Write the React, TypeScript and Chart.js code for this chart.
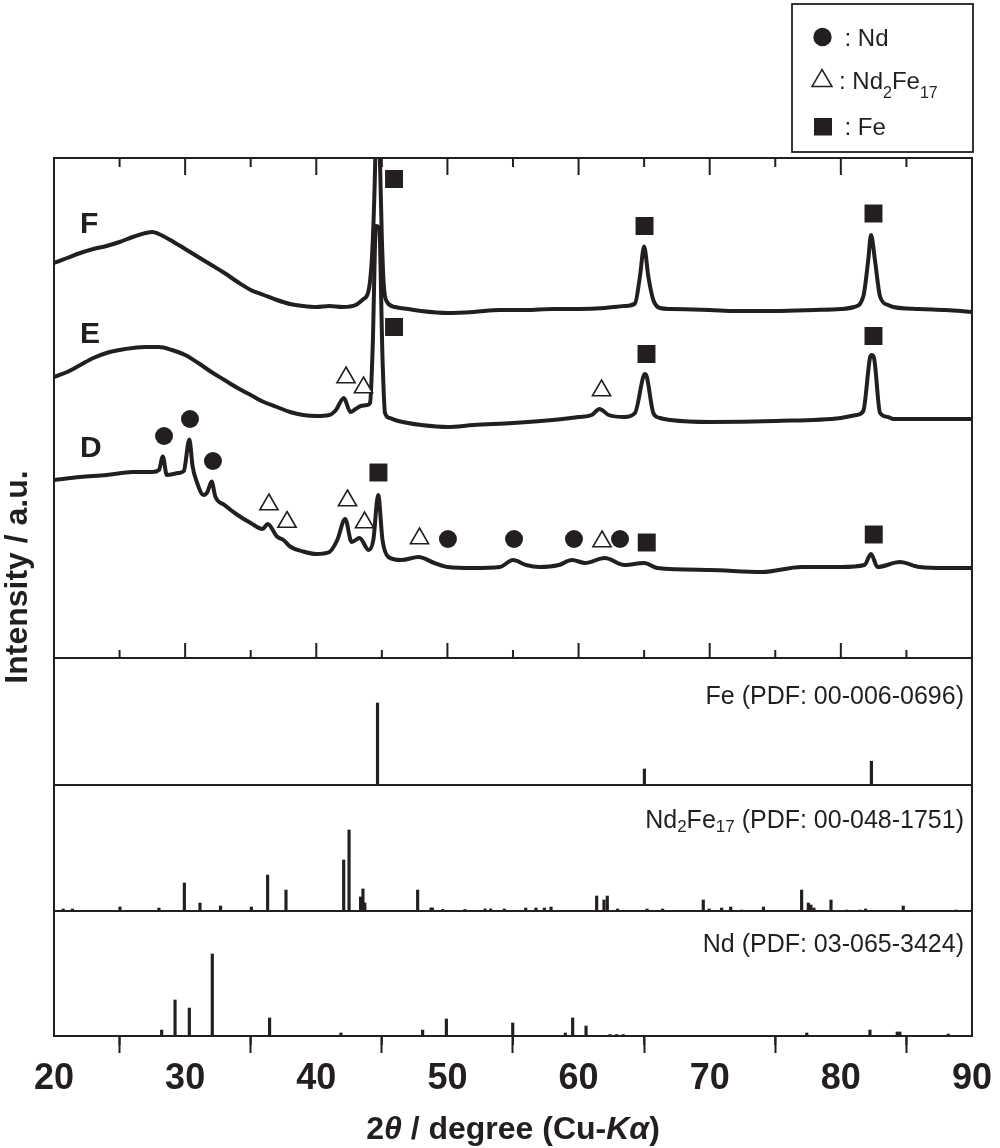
import { useEffect, useRef } from 'react';
import { Chart, registerables } from 'chart.js';

Chart.register(...registerables);

const INK = '#231f20';
const SANS = '"Liberation Sans", Arial, Helvetica, sans-serif';

// Measured patterns: [2θ (deg), intensity (a.u., vertically offset per sample)]
const patternF: [number, number][] = [
  [20, 79.0], [21, 80.0], [22, 81.0], [23, 81.8], [24, 82.4], [25, 83.2], [26, 84.2], [27, 85.0],
  [27.5, 85.2], [28, 84.8], [29, 83.4], [30, 81.8], [31, 80.2], [32, 78.6], [33, 77.0], [34, 75.2],
  [35, 73.6], [36, 72.6], [37, 71.6], [38, 70.8], [39, 70.4], [40, 70.2], [41, 70.4], [42, 70.2],
  [43, 70.6], [43.6, 71.8], [44.0, 73.6], [44.3, 83], [44.5, 100], [44.67, 130], [44.85, 100],
  [45.0, 84], [45.15, 74.5], [45.4, 71.2], [46, 70.2], [47, 69.8], [48, 69.4], [50, 69.0], [52, 69.2],
  [54, 69.6], [56, 69.6], [58, 69.8], [60, 69.8], [62, 70.0], [63.5, 70.4], [64.3, 70.9], [64.68, 76.3],
  [65.0, 82.3], [65.32, 76.3], [65.7, 71.6], [66.2, 70.0], [67, 69.8], [70, 69.6], [72, 69.4],
  [75, 69.4], [78, 69.6], [80, 69.8], [81, 70.2], [81.71, 72.3], [82.09, 79.6], [82.3, 84.6],
  [82.6, 79.6], [82.99, 72.3], [83.6, 70.6], [84, 70.2], [86, 69.8], [88, 69.6], [90, 69.2],
];

const patternE: [number, number][] = [
  [20, 56.2], [21, 57.2], [22, 58.6], [23, 60.0], [24, 61.0], [25, 61.6], [26, 62.0], [27, 62.2],
  [28, 62.2], [29, 61.6], [30, 60.6], [31, 59.0], [32, 57.2], [33, 55.6], [34, 54.0], [35, 52.6],
  [36, 51.2], [37, 50.2], [38, 49.2], [39, 48.6], [40, 48.4], [41, 48.6], [41.5, 49.6], [42.1, 52.0],
  [42.6, 49.2], [43.0, 49.8], [43.4, 50.4], [43.9, 50.6], [44.1, 51.0], [44.3, 62], [44.55, 86.4],
  [44.8, 86], [45.05, 60], [45.24, 49], [45.6, 48], [46, 47.6], [47, 47.0], [48, 46.6], [50, 46.2],
  [52, 46.6], [55, 47.0], [58, 47.6], [60, 48.2], [61, 48.6], [61.6, 49.8], [62.3, 48.6], [63.5, 48.2],
  [64.3, 49.0], [64.94, 56.3], [65.05, 56.8], [65.2, 56.3], [65.7, 49.0], [66.2, 48.0], [67, 47.6],
  [70, 47.2], [75, 47.4], [80, 48.0], [81.2, 48.6], [81.71, 49.4], [82.22, 60], [82.35, 60.6],
  [82.53, 60], [82.99, 49], [83.6, 48.2], [84, 47.8], [86, 47.8], [90, 47.8],
];

const patternD: [number, number][] = [
  [20, 35.6], [22, 36.2], [24, 36.6], [26, 37.2], [27.5, 37.2], [28, 37.6], [28.3, 40.3], [28.6, 36.6],
  [29.5, 37.0], [29.9, 37.4], [30.32, 43.7], [30.57, 38.3], [30.88, 35.3], [31.4, 32.6], [31.7, 33.2],
  [32.02, 35.3], [32.3, 32.3], [33, 30.6], [34, 28.6], [35, 27.0], [35.9, 25.8], [36.3, 26.8],
  [37, 24.3], [37.5, 23.6], [38, 22.3], [39, 21.3], [40, 20.8], [41, 21.2], [41.6, 23.6], [42.2, 27.8],
  [42.7, 23.2], [43.3, 24.0], [44.0, 21.6], [44.35, 23.6], [44.72, 32.6], [45.05, 23.6], [45.5, 20.2],
  [46.5, 19.6], [47.8, 20.2], [49, 19.0], [50, 18.2], [52, 18.0], [54, 18.2], [55, 19.6], [56, 18.6],
  [57, 18.2], [58.5, 18.6], [59.5, 19.6], [60.5, 19.0], [62, 20.0], [63.5, 18.6], [65, 19.0], [66, 18.0],
  [70, 17.6], [74, 17.2], [77, 18.2], [80, 18.2], [81.8, 18.6], [82.3, 20.8], [82.8, 18.2], [84.5, 19.2],
  [86, 18.2], [88, 18.0], [90, 18.0],
];

// Phase assignment marks: [2θ, intensity on the pattern axis]
const ndMarks: [number, number][] = [
  [28.39, 44.4], [30.37, 47.8], [32.12, 39.4], [50.04, 23.8], [55.08, 23.8], [59.65, 23.8], [63.16, 23.8],
];
const nd2fe17Marks: [number, number][] = [
  [42.27, 56.1], [43.6, 54.1], [61.75, 53.5],
  [36.39, 30.7], [37.77, 27.2], [42.38, 31.5], [43.68, 27.1], [47.87, 23.9], [61.79, 23.3],
];
const feMarks: [number, number][] = [
  [45.93, 95.8], [65.03, 86.4], [82.49, 88.9],
  [45.93, 66.2], [65.18, 60.8], [82.49, 64.4],
  [44.74, 37.1], [65.2, 23.1], [82.51, 24.7],
];

// Reference stick patterns: [2θ, relative intensity (%)]
const feRef: [number, number][] = [[44.67, 100], [65.02, 19.5], [82.33, 29]];

const nd2fe17Ref: [number, number][] = [
  [20.7, 2.5], [21.4, 2.5], [25.03, 5], [28.0, 3.7], [29.94, 34.6], [31.13, 9.9], [32.7, 6.2],
  [35.05, 4.9], [36.29, 44.4], [37.69, 25.9], [42.09, 63], [42.5, 100], [43.38, 17.3], [43.56, 27.2],
  [43.7, 9.9], [47.73, 25.9], [48.75, 3.7], [48.85, 3.7], [49.64, 1.9], [51.34, 1.9], [52.87, 2.5],
  [53.3, 2.5], [54.34, 2.5], [55.97, 3.7], [56.75, 3.7], [57.39, 3.7], [57.9, 4.9], [61.38, 18.5],
  [61.94, 13.6], [62.19, 18.5], [62.98, 2.5], [65.22, 2.5], [66.41, 2.5], [69.51, 13.6], [69.95, 2.5],
  [70.91, 3.7], [71.6, 4.9], [72.44, 1.2], [74.1, 4.9], [77.01, 25.9], [77.52, 9.9], [77.72, 7.4],
  [77.95, 3.7], [79.25, 13.6], [80.44, 1.2], [81.46, 1.2], [81.89, 2.5], [84.76, 6.2], [88.78, 1.2],
];

const ndRef: [number, number][] = [
  [28.21, 7.3], [29.23, 43.9], [30.32, 34.1], [32.07, 100], [36.44, 22], [41.88, 3.7], [48.11, 7.3],
  [49.92, 20.7], [54.98, 15.9], [58.99, 3.7], [59.55, 22], [60.57, 12.2], [62.4, 1.8], [62.9, 1.8],
  [63.4, 1.8], [77.4, 3.7], [82.22, 7.3], [84.3, 4.9], [84.5, 4.9], [88.19, 2.4],
];

const xMajorTicks = [20, 30, 40, 50, 60, 70, 80, 90];
const xMinorTicks = [25, 35, 45, 55, 65, 75, 85];
const sampleNames = ['F', 'E', 'D'];

// ---- layout ----
const CANVAS_W = 1000;
const CANVAS_H = 1148;
const PLOT = { left: 54, right: 972, top: 158, bottom: 1036 };
// baseline pixel and pixels per intensity unit of each stacked panel
const PANEL: Record<string, { base: number; ppu: number }> = {
  yMain: { base: 658, ppu: 5 },
  yFe: { base: 785, ppu: 0.82 },
  yNd2Fe17: { base: 911, ppu: 0.81 },
  yNd: { base: 1036, ppu: 0.82 },
};

function panelScale(key: string) {
  const p = PANEL[key];
  return {
    type: 'linear' as const,
    display: false,
    bounds: 'data' as const,
    min: (p.base - PLOT.bottom) / p.ppu,
    max: (p.base - PLOT.top) / p.ppu,
  };
}

type Run = { text: string; sub?: boolean; italic?: boolean };

function drawRuns(
  ctx: CanvasRenderingContext2D,
  runs: Run[],
  x: number,
  y: number,
  size: number,
  weight: string,
  align: 'left' | 'right' | 'center',
  subSize: number,
  subDrop: number,
) {
  const fontOf = (r: Run) => `${r.italic ? 'italic ' : ''}${weight} ${r.sub ? subSize : size}px ${SANS}`;
  const widths = runs.map((r) => {
    ctx.font = fontOf(r);
    return ctx.measureText(r.text).width;
  });
  const total = widths.reduce((s, w) => s + w, 0);
  let cx = align === 'right' ? x - total : align === 'center' ? x - total / 2 : x;
  ctx.textAlign = 'left';
  ctx.textBaseline = 'alphabetic';
  runs.forEach((r, i) => {
    ctx.font = fontOf(r);
    ctx.fillText(r.text, cx, r.sub ? y + subDrop : y);
    cx += widths[i];
  });
}

const decorations = {
  id: 'xrdDecorations',
  afterDraw(chart: Chart) {
    const { ctx, chartArea: a, scales } = chart;
    const x = scales.x;
    const mainBottom = scales.yMain.getPixelForValue(0);
    const feBottom = scales.yFe.getPixelForValue(0);
    const ndfeBottom = scales.yNd2Fe17.getPixelForValue(0);

    ctx.save();
    ctx.strokeStyle = INK;
    ctx.fillStyle = INK;
    ctx.lineCap = 'butt';

    // panel frames
    ctx.lineWidth = 2;
    ctx.strokeRect(a.left, a.top, a.right - a.left, a.bottom - a.top);
    [mainBottom, feBottom, ndfeBottom].forEach((py) => {
      ctx.beginPath();
      ctx.moveTo(a.left, py);
      ctx.lineTo(a.right, py);
      ctx.stroke();
    });

    // inward ticks of the pattern panel, minor ticks of the bottom axis
    const all = [...xMajorTicks, ...xMinorTicks];
    all.forEach((v) => {
      const px = x.getPixelForValue(v);
      const major = xMajorTicks.includes(v);
      ctx.beginPath();
      if (v > 20 && v < 90) {
        ctx.moveTo(px, a.top);
        ctx.lineTo(px, a.top + (major ? 17 : 9));
        ctx.moveTo(px, mainBottom);
        ctx.lineTo(px, mainBottom - (major ? 15 : 8));
      }
      if (!major) {
        ctx.moveTo(px, a.bottom);
        ctx.lineTo(px, a.bottom + 9);
      }
      ctx.stroke();
    });

    // sample labels
    ctx.font = `bold 30px ${SANS}`;
    ctx.textAlign = 'left';
    ctx.textBaseline = 'alphabetic';
    const labelBase = [233, 342.5, 457];
    sampleNames.forEach((n, i) => ctx.fillText(n, a.left + 26, labelBase[i]));

    // reference card labels
    const rx = a.right - 8;
    drawRuns(ctx, [{ text: 'Fe (PDF: 00-006-0696)' }], rx, feBottom - 81, 25, 'normal', 'right', 17, 3.5);
    drawRuns(
      ctx,
      [{ text: 'Nd' }, { text: '2', sub: true }, { text: 'Fe' }, { text: '17', sub: true }, { text: ' (PDF: 00-048-1751)' }],
      rx, ndfeBottom - 83, 25, 'normal', 'right', 17, 3.5,
    );
    drawRuns(ctx, [{ text: 'Nd (PDF: 03-065-3424)' }], rx, a.bottom - 84, 25, 'normal', 'right', 17, 3.5);

    // axis titles
    drawRuns(
      ctx,
      [{ text: '2' }, { text: 'θ', italic: true }, { text: ' / degree (Cu-' }, { text: 'Kα', italic: true }, { text: ')' }],
      (a.left + a.right) / 2, 1139, 32, 'bold', 'center', 20, 0,
    );
    ctx.save();
    ctx.translate(27, 577);
    ctx.rotate(-Math.PI / 2);
    ctx.font = `bold 32px ${SANS}`;
    ctx.textAlign = 'center';
    ctx.textBaseline = 'alphabetic';
    ctx.fillText('Intensity / a.u.', 0, 0);
    ctx.restore();

    // legend box
    ctx.lineWidth = 1.8;
    ctx.strokeRect(792, 4, 181, 148);
    ctx.beginPath();
    ctx.arc(822.5, 37, 9.2, 0, Math.PI * 2);
    ctx.fill();
    ctx.lineWidth = 1.5;
    ctx.beginPath();
    ctx.moveTo(822, 69.5);
    ctx.lineTo(832, 86.5);
    ctx.lineTo(812, 86.5);
    ctx.closePath();
    ctx.stroke();
    ctx.fillRect(814, 118, 18, 17.5);
    drawRuns(ctx, [{ text: ': Nd' }], 844.5, 45.5, 24, 'normal', 'left', 16, 9);
    drawRuns(
      ctx,
      [{ text: ': Nd' }, { text: '2', sub: true }, { text: 'Fe' }, { text: '17', sub: true }],
      839, 88.5, 24, 'normal', 'left', 16, 9,
    );
    drawRuns(ctx, [{ text: ': Fe' }], 844.5, 135, 24, 'normal', 'left', 16, 9);

    ctx.restore();
  },
};

const toXY = (pts: [number, number][]) => pts.map(([x, y]) => ({ x, y }));

function traceDataset(pts: [number, number][]) {
  return {
    type: 'line' as const,
    data: toXY(pts),
    yAxisID: 'yMain',
    borderColor: INK,
    borderWidth: 4,
    pointRadius: 0,
    fill: false,
    cubicInterpolationMode: 'monotone' as const,
    borderJoinStyle: 'round' as const,
  };
}

function stickDataset(pts: [number, number][], axis: string) {
  return {
    type: 'bar' as const,
    data: toXY(pts),
    yAxisID: axis,
    backgroundColor: INK,
    borderWidth: 0,
    barThickness: 2.5,
    grouped: false,
  };
}

export default function App() {
  const ref = useRef<HTMLCanvasElement>(null);

  useEffect(() => {
    const canvas = ref.current;
    if (!canvas) return;
    Chart.defaults.font.family = SANS;
    const chart = new Chart(canvas, {
      type: 'line',
      data: {
        datasets: [
          {
            type: 'scatter',
            data: toXY(ndMarks),
            yAxisID: 'yMain',
            pointStyle: 'circle',
            pointRadius: 9,
            backgroundColor: INK,
            borderColor: INK,
            borderWidth: 0,
          },
          {
            type: 'scatter',
            data: toXY(nd2fe17Marks),
            yAxisID: 'yMain',
            pointStyle: 'triangle',
            pointRadius: 10.5,
            backgroundColor: '#ffffff',
            borderColor: INK,
            borderWidth: 1.6,
          },
          {
            type: 'scatter',
            data: toXY(feMarks),
            yAxisID: 'yMain',
            pointStyle: 'rect',
            pointRadius: 12.7,
            backgroundColor: INK,
            borderColor: INK,
            borderWidth: 0,
          },
          traceDataset(patternF),
          traceDataset(patternE),
          traceDataset(patternD),
          stickDataset(feRef, 'yFe'),
          stickDataset(nd2fe17Ref, 'yNd2Fe17'),
          stickDataset(ndRef, 'yNd'),
        ] as any,
      },
      options: {
        responsive: false,
        animation: false,
        devicePixelRatio: 1,
        events: [],
        layout: {
          padding: { left: PLOT.left, right: CANVAS_W - PLOT.right, top: PLOT.top, bottom: 0 },
        },
        plugins: { legend: { display: false }, tooltip: { enabled: false } },
        scales: {
          x: {
            type: 'linear',
            position: 'bottom',
            min: 20,
            max: 90,
            offset: false,
            afterBuildTicks: (s: any) => {
              s.ticks = xMajorTicks.map((v) => ({ value: v }));
            },
            afterFit: (s: any) => {
              s.height = CANVAS_H - PLOT.bottom;
            },
            grid: {
              display: true,
              drawOnChartArea: false,
              drawTicks: true,
              tickLength: 17,
              tickWidth: 2,
              tickColor: INK,
              color: INK,
            },
            border: { display: false },
            ticks: {
              autoSkip: false,
              maxRotation: 0,
              padding: 8,
              color: INK,
              font: { family: SANS, size: 36, weight: 'bold', lineHeight: 1 },
            },
          },
          yMain: panelScale('yMain'),
          yFe: panelScale('yFe'),
          yNd2Fe17: panelScale('yNd2Fe17'),
          yNd: panelScale('yNd'),
        } as any,
      },
      plugins: [decorations],
    });
    return () => chart.destroy();
  }, []);

  return (
    <div style={{ position: 'absolute', left: 0, top: 0, width: CANVAS_W, height: CANVAS_H, background: '#ffffff' }}>
      <canvas
        ref={ref}
        width={CANVAS_W}
        height={CANVAS_H}
        style={{ display: 'block', width: CANVAS_W, height: CANVAS_H }}
      />
    </div>
  );
}
